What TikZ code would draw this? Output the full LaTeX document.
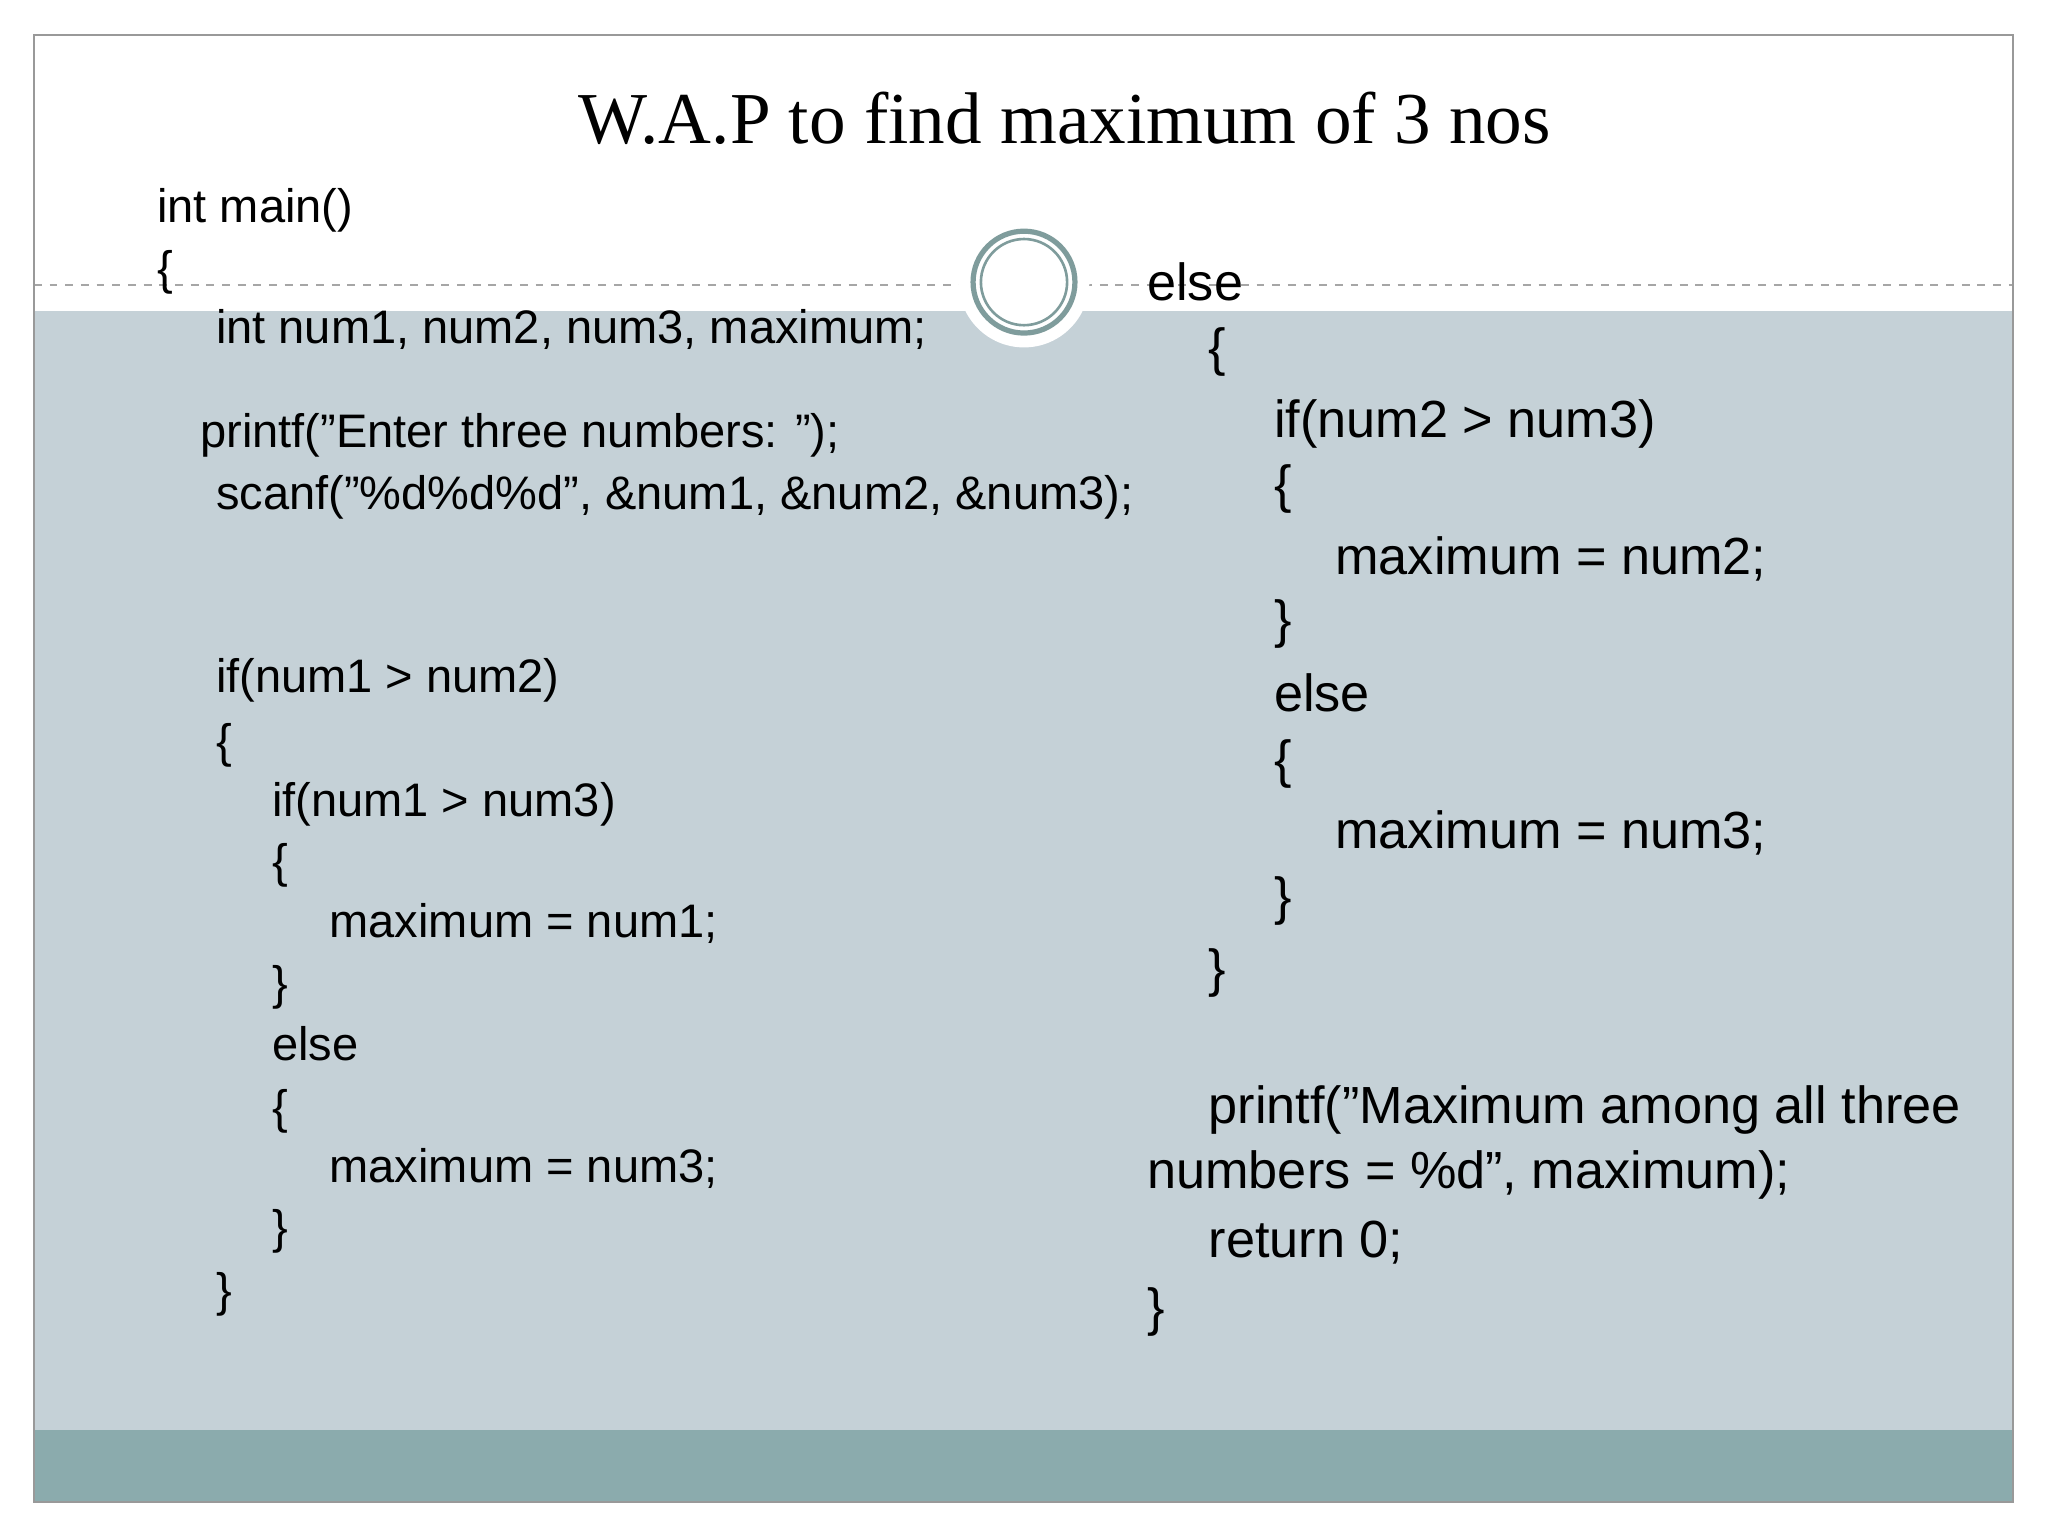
\documentclass[tikz,border=0pt]{standalone}
\usepackage{fontspec}
\setmainfont{Liberation Sans}
\newfontfamily\titlefont{Liberation Serif}
\begin{document}
\begin{tikzpicture}[x=0.5pt,y=-0.5pt,
  ls/.style={anchor=base west,inner sep=0pt,font=\fontsize{18}{20}\selectfont},
  rs/.style={anchor=base west,inner sep=0pt,font=\fontsize{20}{22}\selectfont}]
\definecolor{bg}{HTML}{C5D1D7}
\definecolor{band}{HTML}{8BABAD}
\definecolor{ring}{HTML}{7F9C9C}
\useasboundingbox (0,0) rectangle (1568,1176);
\fill[white] (0,0) rectangle (1568,1176);
\fill[bg] (26,238) rectangle (1541,1095);
\fill[band] (26,1095) rectangle (1541,1150);
\draw[gray!70,dashed,line width=0.6pt] (26,218) -- (1541,218);
\fill[white] (784,216) circle (50);
\draw[ring,line width=2pt] (784,216) circle (39);
\draw[ring,line width=1pt] (784,216) circle (33);
\draw[gray!80,line width=0.8pt] (26,27) rectangle (1541,1150);
\node[anchor=base,inner sep=0pt,font=\titlefont\fontsize{28}{30}\selectfont] (title) at (815,110) {W.A.P to find maximum of 3 nos};
\node[ls] (l1) at (120,170) {int main()};
\node[ls] (l2) at (120,218) {\{};
\node[ls] (l3) at (165,263) {int num1, num2, num3, maximum;};
\node[ls] (l4) at (153,343) {printf("Enter three numbers: ");};
\node[ls] (l5) at (165,390) {scanf("\%d\%d\%d", \&num1, \&num2, \&num3);};
\node[ls] (l6) at (165,530) {if(num1 > num2)};
\node[ls] (l7) at (165,580) {\{};
\node[ls] (l8) at (208,625) {if(num1 > num3)};
\node[ls] (l9) at (208,672) {\{};
\node[ls] (l10) at (252,718) {maximum = num1;};
\node[ls] (l11) at (208,765) {\}};
\node[ls] (l12) at (208,812) {else};
\node[ls] (l13) at (208,860) {\{};
\node[ls] (l14) at (252,905) {maximum = num3;};
\node[ls] (l15) at (208,952) {\}};
\node[ls] (l16) at (165,1000) {\}};
\node[rs] (r1) at (878,230) {else};
\node[rs] (r2) at (925,280) {\{};
\node[rs] (r3) at (975,335) {if(num2 > num3)};
\node[rs] (r4) at (975,385) {\{};
\node[rs] (r5) at (1022,440) {maximum = num2;};
\node[rs] (r6) at (975,488) {\}};
\node[rs] (r7) at (975,545) {else};
\node[rs] (r8) at (975,595) {\{};
\node[rs] (r9) at (1022,650) {maximum = num3;};
\node[rs] (r10) at (975,700) {\}};
\node[rs] (r11) at (925,755) {\}};
\node[rs] (r12) at (925,860) {printf("Maximum among all three};
\node[rs] (r13) at (878,910) {numbers = \%d", maximum);};
\node[rs] (r14) at (925,963) {return 0;};
\node[rs] (r15) at (878,1015) {\}};
\end{tikzpicture}
\end{document}
